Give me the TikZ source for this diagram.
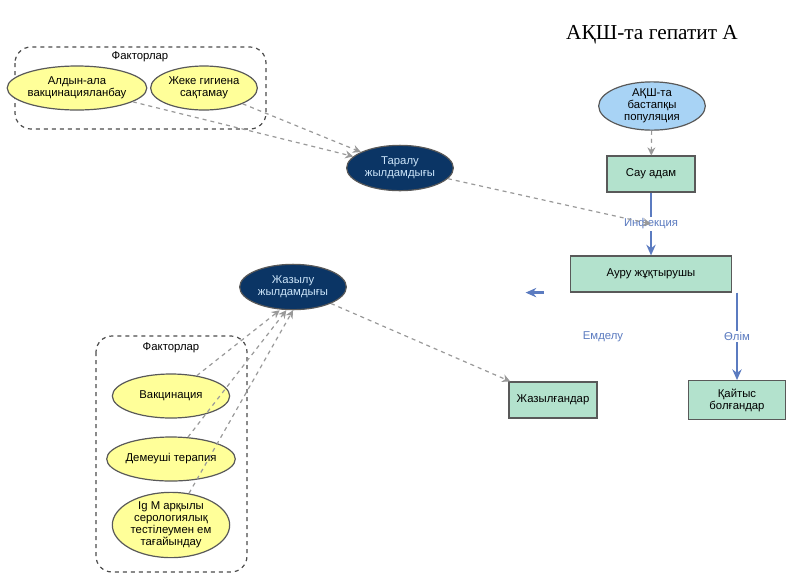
\documentclass[tikz,border=0pt]{standalone}
\usepackage{fontspec}
\setmainfont{Liberation Sans}
\newfontfamily\titlefont{Liberation Serif}
\usetikzlibrary{shapes.geometric,arrows.meta}
\definecolor{yel}{HTML}{FFFF99}
\definecolor{grn}{HTML}{B3E2CD}
\definecolor{navy}{HTML}{0B3565}
\definecolor{lblue}{HTML}{A8D3F5}
\definecolor{flow}{HTML}{5B7BC0}
\begin{document}
\begin{tikzpicture}[x=0.75pt,y=-0.75pt,
  el/.style={ellipse,draw=black!65,line width=0.9pt,minimum width=#1,inner sep=0pt,align=center,font=\fontsize{8.5}{9}\selectfont},
  fac/.style={el=#1,fill=yel,minimum height=33pt},
  box/.style={rectangle,draw=black!65,line width=0.9pt,fill=grn,align=center,font=\fontsize{8.5}{9}\selectfont,minimum height=27pt},
  grp/.style={draw=black!70,dashed,line width=0.9pt,rounded corners=12pt},
  dep/.style={draw=black!40,dashed,line width=0.9pt,-{Stealth[length=6pt,width=6pt]}},
  fl/.style={draw=flow,line width=2pt,-{Stealth[length=8pt,width=7pt]}},
  lab/.style={fill=white,text=flow,inner sep=1pt,font=\fontsize{8.5}{9}\selectfont}]
\useasboundingbox (0,0) rectangle (800,583);
\node[font=\titlefont\fontsize{16}{18}\selectfont] (title) at (652,35) {АҚШ-та гепатит А};
% groups
\draw[grp] (15,47) rectangle (266,129);
\node[font=\fontsize{8.5}{9}\selectfont] (g1) at (140,57) {Факторлар};
\draw[grp] (96,336) rectangle (247,572);
\node[font=\fontsize{8.5}{9}\selectfont] (g2) at (171,348) {Факторлар};
% nodes
\node[fac=80pt] (a1) at (77,88) {Алдын-ала\\вакцинацияланбау};
\node[fac=80pt] (a2) at (204,88) {Жеке гигиена\\сақтамау};
\node[el=80pt,fill=navy,text=lblue!60!white,minimum height=34pt] (tar) at (400,168) {Таралу\\жылдамдығы};
\node[el=80pt,fill=navy,text=lblue!60!white,minimum height=34pt] (zhaz) at (293,287) {Жазылу\\жылдамдығы};
\node[el=80pt,fill=lblue,minimum height=34pt] (pop) at (652,106) {АҚШ-та\\бастапқы\\популяция};
\node[box,minimum width=66pt] (sau) at (651,174) {Сау адам};
\node[box,minimum width=121pt] (auru) at (651,274) {Ауру жұқтырушы};
\node[box,minimum width=66pt] (zhg) at (553,400) {Жазылғандар};
\node[box,minimum width=73pt,minimum height=29pt] (ol) at (737,400) {Қайтыс\\болғандар};
\node[fac=88pt] (v1) at (171,396) {Вакцинация};
\node[fac=88pt] (v2) at (171,459) {Демеуші терапия};
\node[fac=88pt,minimum height=39pt] (v3) at (171,525) {Ig M арқылы\\серологиялық\\тестілеумен ем\\тағайындау};
% flows
\coordinate (inf) at (651,224);
\draw[fl] (sau) -- (auru) node[lab,midway] {Инфекция};
\draw[fl] (auru.south -| zhg.north east) ++(-54,0) coordinate (e1) -- ([xshift=-54]auru.south -| zhg.north east |- zhg.north) coordinate (e2);
\node[lab] (em) at (603,337) {Емделу};
\draw[fl] (auru.south -| ol.north) -- (ol.north) node[lab,midway] {Өлім};
% dependencies
\draw[dep] (pop) -- (sau);
\draw[dep] (a1) -- (tar);
\draw[dep] (a2) -- (tar);
\draw[dep] (tar) -- (inf);
\draw[dep] (zhaz) -- (zhg);
\draw[dep] (v1) -- ([xshift=-10]zhaz.south);
\draw[dep] (v2) -- ([xshift=-5]zhaz.south);
\draw[dep] (v3) -- (zhaz.south);
\end{tikzpicture}
\end{document}
